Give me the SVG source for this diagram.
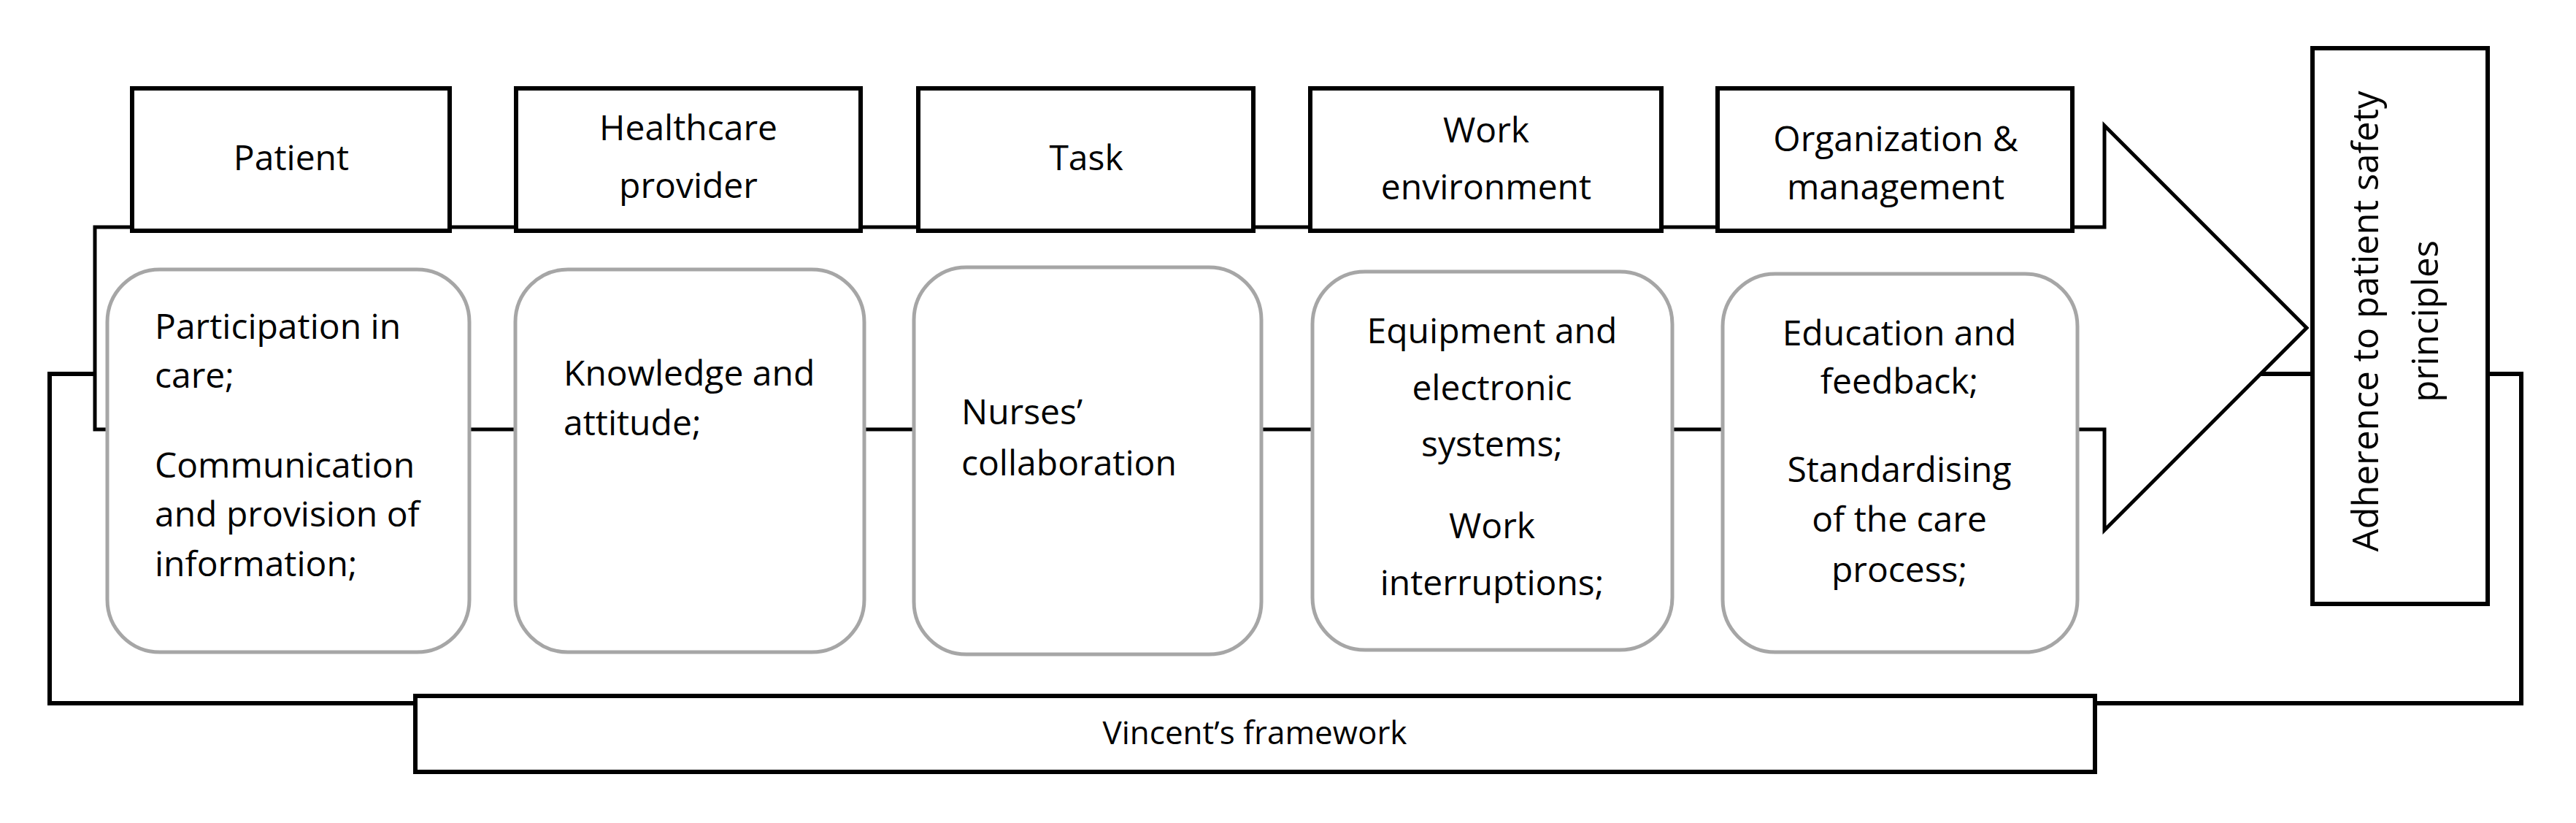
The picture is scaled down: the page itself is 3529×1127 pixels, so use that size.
<svg xmlns="http://www.w3.org/2000/svg" width="3529" height="1127" viewBox="0 0 3529 1127">
<style>
  .box { fill: #fff; stroke: #000; stroke-width: 6; }
  .rbox { fill: #fff; stroke: #a6a6a6; stroke-width: 5; }
  .arrow { fill: #fff; stroke: #000; stroke-width: 5; stroke-linejoin: miter; }
  .conn { fill: none; stroke: #000; stroke-width: 6; }
  text { font-family: "Open Sans", "Noto Sans", "Liberation Sans", sans-serif; font-size: 48px; fill: #000; }
  .c { text-anchor: middle; }
</style>
<rect width="3529" height="1127" fill="#fff"/>

<g id="connectors">
  <rect class="conn" x="68" y="512" width="3386" height="451"/>
</g>

<g id="flow-arrow">
  <path class="arrow" d="M130 311 H2883 V172 L3160 449 L2883 726 V588 H130 Z"/>
</g>

<g id="patient">
  <rect class="box" x="181" y="121" width="435" height="195"/>
  <text class="c" x="399" y="233">Patient</text>
</g>
<g id="healthcare-provider">
  <rect class="box" x="707" y="121" width="472" height="195"/>
  <text class="c" x="943" y="192">Healthcare</text>
  <text class="c" x="943" y="271">provider</text>
</g>
<g id="task">
  <rect class="box" x="1258" y="121" width="459" height="195"/>
  <text class="c" x="1488" y="233">Task</text>
</g>
<g id="work-environment">
  <rect class="box" x="1795" y="121" width="481" height="195"/>
  <text class="c" x="2036" y="195">Work</text>
  <text class="c" x="2036" y="273">environment</text>
</g>
<g id="organization-management">
  <rect class="box" x="2353" y="121" width="486" height="195"/>
  <text class="c" x="2597" y="207">Organization &amp;</text>
  <text class="c" x="2597" y="273">management</text>
</g>

<g id="patient-factors">
  <rect class="rbox" x="147" y="369" width="496" height="524" rx="72" ry="72"/>
  <text x="212" y="464">Participation in</text>
  <text x="212" y="531">care;</text>
  <text x="212" y="654">Communication</text>
  <text x="212" y="721">and provision of</text>
  <text x="212" y="789">information;</text>
</g>
<g id="provider-factors">
  <rect class="rbox" x="706" y="369" width="478" height="524" rx="72" ry="72"/>
  <text x="772" y="528">Knowledge and</text>
  <text x="772" y="596">attitude;</text>
</g>
<g id="task-factors">
  <rect class="rbox" x="1252" y="366" width="476" height="530" rx="72" ry="72"/>
  <text x="1317" y="581">Nurses’</text>
  <text x="1317" y="651">collaboration</text>
</g>
<g id="environment-factors">
  <rect class="rbox" x="1798" y="372" width="493" height="518" rx="72" ry="72"/>
  <text class="c" x="2044" y="470">Equipment and</text>
  <text class="c" x="2044" y="548">electronic</text>
  <text class="c" x="2044" y="625">systems;</text>
  <text class="c" x="2044" y="737">Work</text>
  <text class="c" x="2044" y="815">interruptions;</text>
</g>
<g id="organization-factors">
  <rect class="rbox" x="2360" y="375" width="486" height="518" rx="72" ry="72"/>
  <text class="c" x="2602" y="473">Education and</text>
  <text class="c" x="2602" y="539">feedback;</text>
  <text class="c" x="2602" y="660">Standardising</text>
  <text class="c" x="2602" y="728">of the care</text>
  <text class="c" x="2602" y="797">process;</text>
</g>

<g id="adherence">
  <rect class="box" x="3168" y="66" width="240" height="761"/>
  <text class="c" transform="translate(3258,440) rotate(-90)" style="font-size:49px">Adherence to patient safety</text>
  <text class="c" transform="translate(3340,440) rotate(-90)" style="font-size:49px">principles</text>
</g>

<g id="vincent-framework">
  <rect class="box" x="569" y="953" width="2301" height="104"/>
  <text class="c" x="1719" y="1019" style="font-size:44px">Vincent’s framework</text>
</g>
</svg>
